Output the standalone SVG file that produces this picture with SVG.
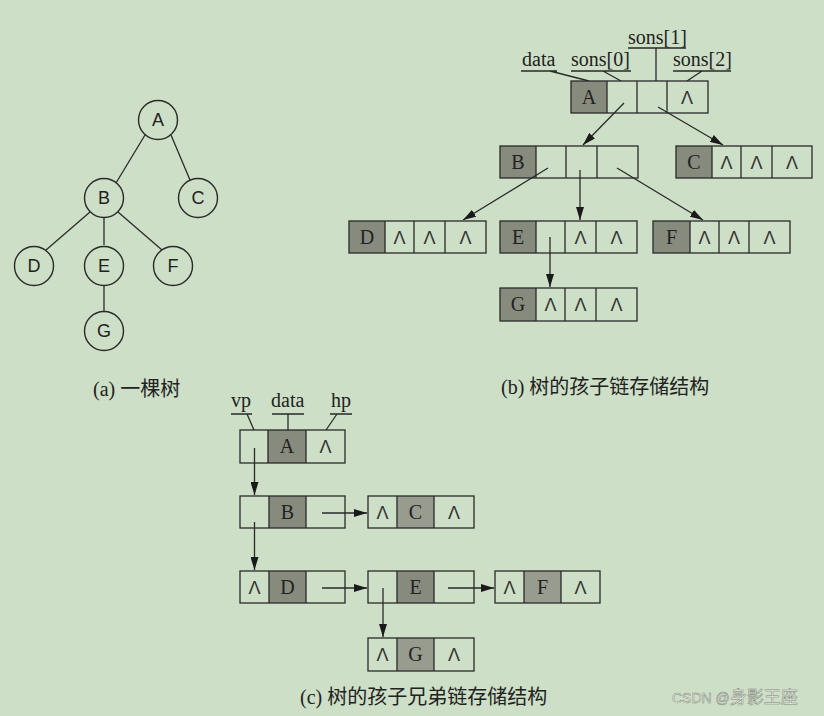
<svg xmlns="http://www.w3.org/2000/svg" width="824" height="716" viewBox="0 0 824 716">
<defs>
<style>
.bx{fill:none;stroke:#2a2a2a;stroke-width:1.3}
.sh{fill:#868b7e}
.sh2{fill:#979c8e}
.ln{fill:none;stroke:#2a2a2a;stroke-width:1.3}
.t{font-family:"Liberation Serif",serif;font-size:20px;fill:#222;text-anchor:middle}
.lb{font-family:"Liberation Serif",serif;font-size:20px;fill:#222}
.nul{font-family:"Liberation Sans",sans-serif;font-size:18px;fill:#333;text-anchor:middle}
.cir{fill:none;stroke:#2a2a2a;stroke-width:1.4}
.tl{font-family:"Liberation Sans",sans-serif;font-size:18px;fill:#222;text-anchor:middle}
.cap{font-family:"Liberation Serif","Noto Sans CJK SC",serif;font-size:20px;fill:#222}
.wm{font-family:"Liberation Sans","Noto Sans CJK SC",sans-serif;font-size:14px;fill:#f2f4ef;stroke:#7d8478;stroke-width:0.5}
</style>
<marker id="ar" markerUnits="userSpaceOnUse" markerWidth="13" markerHeight="8" refX="13" refY="4" orient="auto">
<path d="M0,0 L13,4 L0,8 z" fill="#1a1a1a"/>
</marker>
</defs>
<rect width="824" height="716" fill="#cddfc6"/>

<!-- (a) tree -->
<g id="tree-edges" class="ln">
<line x1="145" y1="135" x2="116" y2="183"/>
<line x1="171" y1="135" x2="190" y2="180"/>
<line x1="90" y1="212" x2="46" y2="250"/>
<line x1="104" y1="218" x2="104" y2="245"/>
<line x1="118" y1="212" x2="162" y2="250"/>
<line x1="104" y1="285" x2="104" y2="311"/>
</g>
<g id="ta"><circle class="cir" cx="158" cy="120" r="19.5"/><text class="tl" x="158" y="126">A</text></g>
<g id="tb"><circle class="cir" cx="104" cy="198" r="19.5"/><text class="tl" x="104" y="204">B</text></g>
<g id="tc"><circle class="cir" cx="198" cy="198" r="19.5"/><text class="tl" x="198" y="204">C</text></g>
<g id="td"><circle class="cir" cx="34" cy="266" r="19.5"/><text class="tl" x="34" y="272">D</text></g>
<g id="te"><circle class="cir" cx="104" cy="266" r="19.5"/><text class="tl" x="104" y="272">E</text></g>
<g id="tf"><circle class="cir" cx="173" cy="266" r="19.5"/><text class="tl" x="173" y="272">F</text></g>
<g id="tg"><circle class="cir" cx="104" cy="331" r="19.5"/><text class="tl" x="104" y="337">G</text></g>
<text class="cap" x="93" y="396">(a) 一棵树</text>

<!-- (b) labels -->
<g id="b-labels">
<text class="lb" x="522" y="66">data</text>
<text class="lb" x="571" y="66">sons[0]</text>
<text class="lb" x="628" y="44">sons[1]</text>
<text class="lb" x="673" y="66">sons[2]</text>
<path class="ln" d="M521,71 H557 M550,71 L589,81 M571,71 H631 M603,71 L621,81 M628,48 H686 M656,48 V81 M673,71 H731 M702,71 L687,81"/>
</g>

<!-- (b) nodes -->
<g id="bA"><rect class="sh" x="571" y="81" width="36" height="32"/><rect class="bx" x="571" y="81" width="137" height="32"/><path class="ln" d="M607,81V113M637,81V113M667,81V113"/><text class="t" x="589" y="104">A</text><text class="nul" x="687" y="104">Λ</text></g>
<g id="bB"><rect class="sh" x="500" y="146" width="36" height="32"/><rect class="bx" x="500" y="146" width="138" height="32"/><path class="ln" d="M536,146V178M566,146V178M597,146V178"/><text class="t" x="518" y="169">B</text></g>
<g id="bC"><rect class="sh" x="676" y="146" width="36" height="32"/><rect class="bx" x="676" y="146" width="136" height="32"/><path class="ln" d="M712,146V178M741,146V178M772,146V178"/><text class="t" x="694" y="169">C</text><text class="nul" x="726.5" y="169">Λ</text><text class="nul" x="756.5" y="169">Λ</text><text class="nul" x="792" y="169">Λ</text></g>
<g id="bD"><rect class="sh" x="349" y="221" width="36" height="32"/><rect class="bx" x="349" y="221" width="137" height="32"/><path class="ln" d="M385,221V253M414,221V253M445,221V253"/><text class="t" x="367" y="244">D</text><text class="nul" x="399.5" y="244">Λ</text><text class="nul" x="429.5" y="244">Λ</text><text class="nul" x="465.5" y="244">Λ</text></g>
<g id="bE"><rect class="sh" x="500" y="221" width="36" height="32"/><rect class="bx" x="500" y="221" width="137" height="32"/><path class="ln" d="M536,221V253M565,221V253M596,221V253"/><text class="t" x="518" y="244">E</text><text class="nul" x="580.5" y="244">Λ</text><text class="nul" x="616.5" y="244">Λ</text></g>
<g id="bF"><rect class="sh" x="653" y="221" width="37" height="32"/><rect class="bx" x="653" y="221" width="137" height="32"/><path class="ln" d="M690,221V253M719,221V253M749,221V253"/><text class="t" x="671.5" y="244">F</text><text class="nul" x="704.5" y="244">Λ</text><text class="nul" x="734" y="244">Λ</text><text class="nul" x="769.5" y="244">Λ</text></g>
<g id="bG"><rect class="sh" x="500" y="288" width="36" height="33"/><rect class="bx" x="500" y="288" width="137" height="33"/><path class="ln" d="M536,288V321M565,288V321M596,288V321"/><text class="t" x="518" y="311">G</text><text class="nul" x="550.5" y="311">Λ</text><text class="nul" x="580.5" y="311">Λ</text><text class="nul" x="616.5" y="311">Λ</text></g>

<!-- (b) connectors -->
<g id="b-connectors" class="ln" marker-end="url(#ar)">
<line x1="624" y1="103" x2="583" y2="145"/>
<line x1="658" y1="107" x2="723" y2="145"/>
<line x1="548" y1="168" x2="463" y2="220"/>
<line x1="580" y1="170" x2="580" y2="220"/>
<line x1="617" y1="168" x2="703" y2="220"/>
<line x1="550" y1="237" x2="550" y2="287"/>
</g>
<text class="cap" x="501" y="394">(b) 树的孩子链存储结构</text>

<!-- (c) labels -->
<g id="c-labels">
<text class="lb" x="231" y="407">vp</text>
<text class="lb" x="271" y="407">data</text>
<text class="lb" x="331" y="407">hp</text>
<path class="ln" d="M231,414H252M247,414L254,430M272,414H304M288,414V430M330,414H352M337,414L326,430"/>
</g>

<!-- (c) nodes -->
<g id="cA"><rect class="sh" x="268" y="430" width="38" height="33"/><rect class="bx" x="240" y="430" width="105" height="33"/><path class="ln" d="M268,430V463M306,430V463"/><text class="t" x="287" y="453">A</text><text class="nul" x="325.5" y="453">Λ</text></g>
<g id="cB"><rect class="sh" x="269" y="496" width="37" height="32"/><rect class="bx" x="240" y="496" width="105" height="32"/><path class="ln" d="M269,496V528M306,496V528"/><text class="t" x="287.5" y="519">B</text></g>
<g id="cC"><rect class="sh2" x="397" y="496" width="37" height="32"/><rect class="bx" x="368" y="496" width="106" height="32"/><path class="ln" d="M397,496V528M434,496V528"/><text class="nul" x="382.5" y="519">Λ</text><text class="t" x="415.5" y="519">C</text><text class="nul" x="454" y="519">Λ</text></g>
<g id="cD"><rect class="sh" x="269" y="571" width="37" height="32"/><rect class="bx" x="240" y="571" width="105" height="32"/><path class="ln" d="M269,571V603M306,571V603"/><text class="nul" x="254.5" y="594">Λ</text><text class="t" x="287.5" y="594">D</text></g>
<g id="cE"><rect class="sh" x="397" y="571" width="37" height="32"/><rect class="bx" x="368" y="571" width="106" height="32"/><path class="ln" d="M397,571V603M434,571V603"/><text class="t" x="415.5" y="594">E</text></g>
<g id="cF"><rect class="sh2" x="524" y="571" width="37" height="32"/><rect class="bx" x="495" y="571" width="105" height="32"/><path class="ln" d="M524,571V603M561,571V603"/><text class="nul" x="509.5" y="594">Λ</text><text class="t" x="542.5" y="594">F</text><text class="nul" x="580.5" y="594">Λ</text></g>
<g id="cG"><rect class="sh2" x="397" y="638" width="37" height="33"/><rect class="bx" x="368" y="638" width="106" height="33"/><path class="ln" d="M397,638V671M434,638V671"/><text class="nul" x="382.5" y="661">Λ</text><text class="t" x="415.5" y="661">G</text><text class="nul" x="454" y="661">Λ</text></g>

<!-- (c) connectors -->
<g id="c-connectors" class="ln" marker-end="url(#ar)">
<line x1="254.5" y1="448" x2="254.5" y2="495"/>
<line x1="322" y1="513" x2="367" y2="513"/>
<line x1="254.5" y1="522" x2="254.5" y2="570"/>
<line x1="322" y1="588" x2="367" y2="588"/>
<line x1="448" y1="588" x2="494" y2="588"/>
<line x1="383" y1="588" x2="383" y2="637"/>
</g>
<text class="cap" x="300" y="704">(c) 树的孩子兄弟链存储结构</text>

<text class="wm" x="672" y="703">CSDN @<tspan font-size="17">身影王座</tspan></text>
</svg>
